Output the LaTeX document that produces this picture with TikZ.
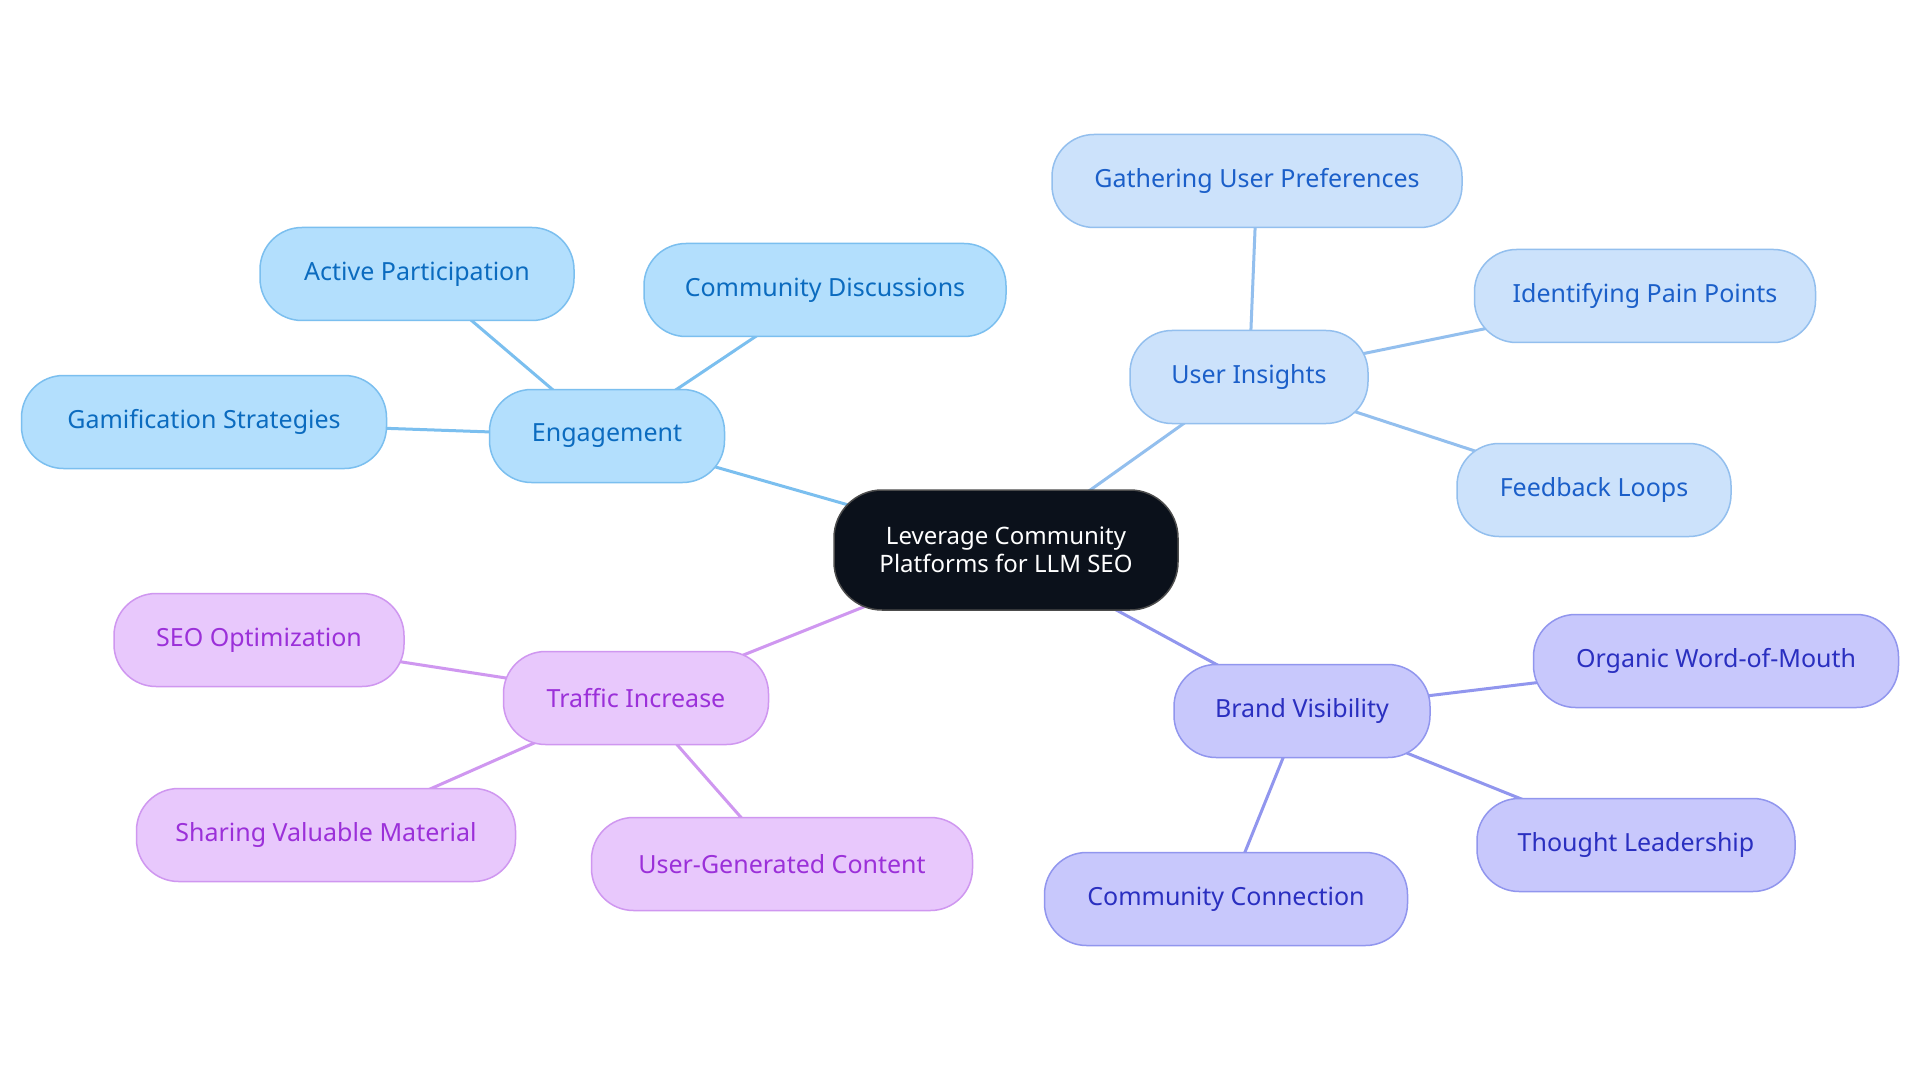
\documentclass[tikz,border=0pt]{standalone}
\usepackage{fontspec}
\setmainfont{Noto Sans}
\usetikzlibrary{backgrounds}
\pgfdeclarelayer{paper}
\pgfsetlayers{paper,background,main}
\definecolor{bfill}{HTML}{B3DFFD}\definecolor{bdraw}{HTML}{7BBFEF}\definecolor{btext}{HTML}{0B6BBF}
\definecolor{ufill}{HTML}{CCE2FB}\definecolor{udraw}{HTML}{93BFEE}\definecolor{utext}{HTML}{1B5FC9}
\definecolor{vfill}{HTML}{C8C8FC}\definecolor{vdraw}{HTML}{9196EE}\definecolor{vtext}{HTML}{2A2FC0}
\definecolor{tfill}{HTML}{E8C8FC}\definecolor{tdraw}{HTML}{CF97F0}\definecolor{ttext}{HTML}{9B30D9}
\definecolor{rfill}{HTML}{0B111B}
\tikzset{
  pill/.style={rounded corners=42pt, minimum height=93pt, inner sep=0pt, line width=1.5pt, font=\fontsize{25}{30}\selectfont, align=center},
  eng/.style={pill, fill=bfill, draw=bdraw, text=btext},
  usr/.style={pill, fill=ufill, draw=udraw, text=utext},
  vis/.style={pill, fill=vfill, draw=vdraw, text=vtext},
  trf/.style={pill, fill=tfill, draw=tdraw, text=ttext},
  rootbox/.style={pill, minimum height=120pt, rounded corners=48pt, fill=rfill, draw=black!70, text=white, font=\fontsize{24}{28}\selectfont},
  elink/.style={line width=3pt, draw=bdraw},
  ulink/.style={line width=3pt, draw=udraw},
  vlink/.style={line width=3pt, draw=vdraw},
  tlink/.style={line width=3pt, draw=tdraw},
}
\begin{document}
\begin{tikzpicture}[x=1pt,y=-1pt]
\begin{pgfonlayer}{paper}
\fill[white] (0,0) rectangle (1920,1083);
\end{pgfonlayer}
\useasboundingbox (0,0) rectangle (1920,1083);
\node[rootbox, minimum width=344pt] (root) at (1006,550) {Leverage Community\\Platforms for LLM SEO};
% Engagement
\node[eng, minimum width=235pt] (eng) at (607,436) {Engagement};
\node[eng, minimum width=314pt] (act) at (417,274) {Active Participation};
\node[eng, minimum width=362pt] (cdis) at (825,290) {Community Discussions};
\node[eng, minimum width=365pt] (gam) at (204,422) {Gamification Strategies};
% User insights
\node[usr, minimum width=238pt] (usr) at (1249,377) {User Insights};
\node[usr, minimum width=410pt] (gath) at (1257,181) {Gathering User Preferences};
\node[usr, minimum width=341pt] (pain) at (1645,296) {Identifying Pain Points};
\node[usr, minimum width=274pt] (feed) at (1594,490) {Feedback Loops};
% Brand visibility
\node[vis, minimum width=256pt] (vis) at (1302,711) {Brand Visibility};
\node[vis, minimum width=365pt] (word) at (1716,661) {Organic Word-of-Mouth};
\node[vis, minimum width=318pt] (lead) at (1636,845) {Thought Leadership};
\node[vis, minimum width=363pt] (conn) at (1226,899) {Community Connection};
% Traffic
\node[trf, minimum width=265pt] (trf) at (636,698) {Traffic Increase};
\node[trf, minimum width=290pt] (seo) at (259,640) {SEO Optimization};
\node[trf, minimum width=379pt] (share) at (326,835) {Sharing Valuable Material};
\node[trf, minimum width=381pt] (ugc) at (782,864) {User-Generated Content};
\begin{scope}[on background layer]
\draw[elink] (root.center) -- (eng.center);
\draw[elink] (eng.center) -- (act.center);
\draw[elink] (eng.center) -- (cdis.center);
\draw[elink] (eng.center) -- (gam.center);
\draw[ulink] (root.center) -- (usr.center);
\draw[ulink] (usr.center) -- (gath.center);
\draw[ulink] (usr.center) -- (pain.center);
\draw[ulink] (usr.center) -- (feed.center);
\draw[vlink] (root.center) -- (vis.center);
\draw[vlink] (vis.center) -- (word.center);
\draw[vlink] (vis.center) -- (lead.center);
\draw[vlink] (vis.center) -- (conn.center);
\draw[tlink] (root.center) -- (trf.center);
\draw[tlink] (trf.center) -- (seo.center);
\draw[tlink] (trf.center) -- (share.center);
\draw[tlink] (trf.center) -- (ugc.center);
\end{scope}
\end{tikzpicture}
\end{document}
